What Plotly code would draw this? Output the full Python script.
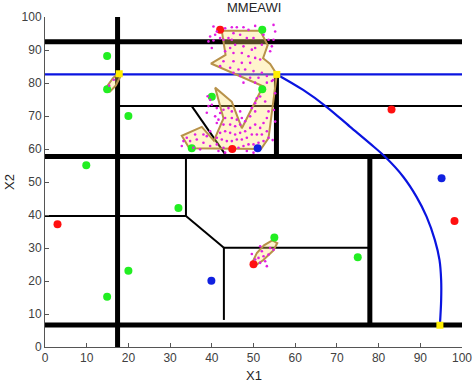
import plotly.graph_objects as go

# ---------------- data ----------------
title_text = "MMEAWI"
x_label = "X1"
y_label = "X2"
tick_values = [0, 10, 20, 30, 40, 50, 60, 70, 80, 90, 100]

# thick black partition lines: (x0, y0, x1, y1)
thick_segments = [
    (0, 92.5, 100, 92.5),
    (0, 57.7, 100, 57.7),
    (0, 6.7, 100, 6.7),
    (17.4, 0, 17.4, 100),
    (77.9, 6.7, 77.9, 57.7),
    (55.5, 57.7, 55.5, 82.5),
]
# thin black lines
thin_segments = [
    (17.4, 73.0, 100, 73.0),
    (35.2, 73.0, 43.6, 57.7),
    (0, 39.7, 33.8, 39.7),
    (33.8, 39.7, 33.8, 57.7),
    (33.8, 39.7, 42.9, 30.1),
    (42.9, 30.1, 77.9, 30.1),
    (42.9, 30.1, 42.9, 8.2),
]
# blue horizontal line
blue_line_x = [0, 100]
blue_line_y = [82.6, 82.6]
# blue front curve
curve_x = [55.6, 61.9, 67.5, 73.1, 77.9, 81.5, 85.9, 89.1, 91.5, 93.5, 94.6, 95.0, 95.0, 94.7]
curve_y = [82.6, 77.9, 72.8, 66.8, 61.7, 57.7, 51.6, 45.5, 39.5, 32.4, 26.4, 20.3, 14.2, 6.7]

# polygons (regions)
big_poly_x = [42.4, 51.6, 53.4, 52.3, 54.0, 55.6, 53.6, 51.8, 34.6, 32.8, 37.6, 40.5, 42.8,
              40.8, 44.8, 47.2, 52.3, 39.8, 43.3]
big_poly_y = [95.8, 95.8, 91.5, 87.5, 85.8, 82.6, 63.3, 60.0, 60.2, 64.0, 66.7, 62.5, 69.3,
              78.6, 74.3, 66.3, 79.0, 85.9, 88.5]
small_poly1_x = [15.0, 14.6, 16.3, 17.6, 18.2, 17.0, 15.6]
small_poly1_y = [77.3, 78.5, 81.5, 83.0, 82.3, 79.3, 77.4]
small_poly2_x = [49.5, 50.8, 52.5, 54.5, 55.7, 54.8, 52.3, 50.3]
small_poly2_y = [25.0, 28.5, 30.8, 32.3, 31.5, 29.3, 26.3, 24.6]

# coloured sample points
red_x = [42.0, 44.9, 83.1, 3.0, 98.2, 50.0]
red_y = [96.1, 60.0, 72.0, 37.2, 38.2, 25.1]
green_x = [52.1, 14.9, 14.9, 20.0, 52.1, 40.0, 35.2, 9.9, 32.0, 20.0, 14.9, 55.0, 75.0]
green_y = [96.1, 88.2, 78.1, 70.0, 78.1, 75.8, 60.2, 55.1, 42.1, 23.1, 15.2, 33.2, 27.2]
blue_x = [95.1, 39.9, 51.0]
blue_y = [51.1, 20.1, 60.2]
yellow_x = [17.8, 55.6, 94.7]
yellow_y = [82.8, 82.6, 6.6]

# magenta samples
mag_x = [40.8, 40.4, 42.0, 41.2, 43.2, 44.8, 46.0, 47.6, 50.4, 48.8, 45.2, 46.8, 44.0, 42.8,
         44.8, 48.4, 50.0, 52.4, 53.6, 54.4, 54.0, 52.0, 50.4, 49.6, 47.6, 45.6, 44.4, 43.2,
         45.2, 47.2, 48.8, 50.4, 51.6, 49.2, 47.2, 45.2, 42.8, 42.0, 44.4, 46.4, 48.0, 50.0,
         52.0, 53.2, 51.2, 49.2, 46.8, 45.2, 53.2, 54.4, 47.6, 50.4,
         40.4, 54.8, 55.2, 54.8, 39.6, 39.2, 40.0,
         39.6, 40.0, 41.2, 42.0, 42.8, 44.0, 44.8, 46.8, 47.2, 46.0, 44.8, 43.2, 41.6, 40.8,
         41.2, 42.8, 44.4, 45.6, 46.8, 48.0, 49.2, 50.4, 49.6, 50.4, 50.8, 51.6, 52.8, 53.6,
         53.2, 52.4, 51.6, 50.4, 49.2, 48.0, 46.8, 45.6, 44.4, 43.2, 42.0, 41.2, 42.4, 43.6,
         44.8, 46.0, 47.2, 48.4, 49.6, 50.8, 52.0, 53.2, 53.6, 52.4, 51.2, 50.0, 48.8, 47.6,
         46.4, 42.8, 41.2, 39.6, 38.0, 36.4, 34.8, 34.0, 33.2, 32.8, 35.6, 37.2, 38.8, 39.6,
         38.0, 36.0, 48.4, 50.0, 43.2, 41.6,
         39.0, 39.2, 38.8, 54.7, 55.2, 54.9, 55.2, 54.6,
         49.6, 51.2, 52.0, 52.4, 53.6, 51.6, 52.8, 54.0, 50.4, 53.2, 51.6, 54.8,
         16.5, 15.4]
mag_y = [94.6, 92.9, 93.6, 95.6, 96.6, 96.9, 96.9, 96.9, 97.3, 96.1, 95.1, 94.6, 93.6, 93.1,
         93.1, 93.6, 93.6, 94.6, 93.1, 91.1, 89.6, 91.6, 90.6, 90.1, 91.1, 91.6, 90.6, 89.6,
         89.1, 89.1, 88.1, 87.6, 87.1, 86.1, 86.1, 86.6, 86.6, 85.1, 84.6, 84.1, 84.1, 83.6,
         83.1, 82.1, 81.6, 81.6, 82.1, 83.1, 80.1, 80.6, 80.1, 80.1,
         97.1, 97.6, 95.6, 93.1, 94.1, 92.6, 90.6,
         74.9, 73.4, 72.4, 70.9, 71.9, 72.4, 71.4, 71.4, 69.4, 68.9, 69.4, 69.4, 68.9, 69.9,
         67.9, 67.4, 67.4, 66.9, 67.4, 68.4, 69.9, 71.4, 72.4, 73.9, 75.4, 75.9, 74.4, 71.4,
         69.4, 67.9, 66.4, 67.4, 66.4, 65.4, 64.9, 64.4, 64.9, 65.4, 64.9, 63.4, 62.9, 62.4,
         62.4, 62.9, 62.9, 63.4, 64.4, 64.4, 64.4, 65.4, 63.4, 62.4, 61.9, 61.4, 61.4, 60.9,
         60.4, 60.4, 61.4, 60.9, 61.9, 62.9, 62.4, 63.4, 62.4, 60.9, 60.4, 59.9, 63.9, 65.4,
         64.4, 64.4, 59.4, 58.9, 58.9, 59.4,
         76.0, 73.0, 71.0, 80.9, 76.9, 71.8, 68.3, 62.7,
         28.2, 27.0, 29.0, 27.5, 28.0, 25.5, 26.0, 30.0, 26.5, 24.5, 30.5, 29.5,
         81.0, 79.2]

# ---------------- figure ----------------
def seg_xy(segments):
    xs, ys = [], []
    for x0, y0, x1, y1 in segments:
        xs += [x0, x1, None]
        ys += [y0, y1, None]
    return xs, ys

fig = go.Figure()

tx, ty = seg_xy(thick_segments)
fig.add_trace(go.Scatter(x=tx, y=ty, mode="lines", line=dict(color="black", width=5)))
nx, ny = seg_xy(thin_segments)
fig.add_trace(go.Scatter(x=nx, y=ny, mode="lines", line=dict(color="black", width=2)))
fig.add_trace(go.Scatter(x=blue_line_x, y=blue_line_y, mode="lines",
                         line=dict(color="#0a14e0", width=2.2)))
fig.add_trace(go.Scatter(x=curve_x, y=curve_y, mode="lines",
                         line=dict(color="#0a14e0", width=2.2, shape="spline")))

poly_fill = "rgba(255,225,100,0.32)"
poly_edge = "#b8924a"
for px, py in [(big_poly_x, big_poly_y), (small_poly1_x, small_poly1_y), (small_poly2_x, small_poly2_y)]:
    fig.add_trace(go.Scatter(x=px + [px[0]], y=py + [py[0]], mode="lines", fill="toself",
                             fillcolor=poly_fill, line=dict(color=poly_edge, width=2)))

fig.add_trace(go.Scatter(x=red_x, y=red_y, mode="markers",
                         marker=dict(color="#ff1010", size=8)))
fig.add_trace(go.Scatter(x=green_x, y=green_y, mode="markers",
                         marker=dict(color="#22ee22", size=8)))
fig.add_trace(go.Scatter(x=blue_x, y=blue_y, mode="markers",
                         marker=dict(color="#1020e0", size=8)))
fig.add_trace(go.Scatter(x=mag_x, y=mag_y, mode="markers",
                         marker=dict(color="#e21ee2", size=2.6)))
fig.add_trace(go.Scatter(x=yellow_x, y=yellow_y, mode="markers",
                         marker=dict(color="#ffee00", size=7, symbol="square")))

axis_common = dict(range=[0, 100], tickvals=tick_values, showgrid=False, zeroline=False,
                   showline=True, linecolor="#555555", linewidth=1,
                   ticks="inside", ticklen=4, tickcolor="#555555", automargin=False,
                   tickfont=dict(family="Liberation Sans, Arial, sans-serif", size=12, color="#404040"))

fig.update_layout(
    width=474, height=384,
    margin=dict(l=45, r=12, t=17, b=37, autoexpand=False),
    paper_bgcolor="white", plot_bgcolor="white",
    showlegend=False,
    xaxis=axis_common,
    yaxis=axis_common,
    annotations=[
        dict(text=title_text, x=0.5, y=(347 - 7.5) / 330, xref="paper", yref="paper",
             showarrow=False, yanchor="middle",
             font=dict(family="Liberation Sans, Arial, sans-serif", size=13, color="#262626")),
        dict(text=x_label, x=0.5, y=(347 - 375) / 330, xref="paper", yref="paper",
             showarrow=False, yanchor="middle",
             font=dict(family="Liberation Sans, Arial, sans-serif", size=13, color="#262626")),
        dict(text=y_label, x=(9 - 45) / 417, y=0.5, xref="paper", yref="paper",
             showarrow=False, textangle=-90, xanchor="center",
             font=dict(family="Liberation Sans, Arial, sans-serif", size=13, color="#262626")),
    ],
)

fig.write_html("out.html", config={"displayModeBar": False},
               post_script="document.body.style.margin='0';document.body.style.overflow='hidden';")
